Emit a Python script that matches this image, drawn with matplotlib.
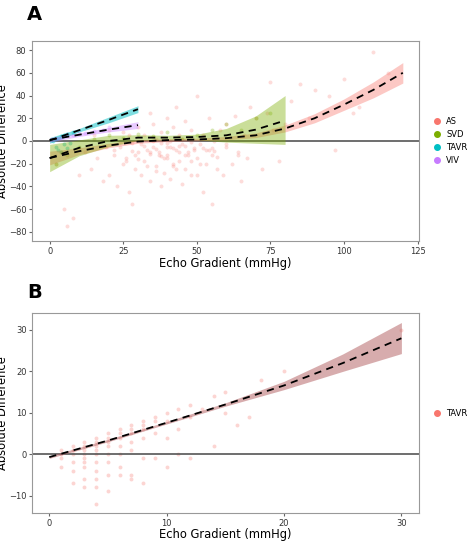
import matplotlib
matplotlib.use("Agg")
import matplotlib.pyplot as plt
import numpy as np

# ---------- Panel A data ----------
as_x = [2,5,6,8,10,12,14,15,16,18,19,20,20,22,23,24,25,25,26,27,28,28,29,30,30,31,32,32,33,34,34,35,35,36,36,37,38,38,39,40,40,40,41,41,42,42,43,43,44,44,45,45,46,46,47,48,48,49,50,50,51,52,52,53,54,55,55,56,57,58,59,60,60,62,63,64,65,66,67,68,70,72,74,75,76,78,80,82,85,88,90,95,97,100,103,105,110,115,
        22,24,26,27,29,31,33,35,37,39,41,43,45,47,49,51,53,55,57,30,34,38,42,46,50,54,36,40,44,48,
        32,36,40,44,48,52,56,38,42,46,28,34,60,64]
as_y = [-20,-60,-75,-68,-30,-10,-25,5,-15,-35,-5,-30,10,-12,-40,-5,-20,8,-15,-45,-55,-2,-25,12,-10,-30,5,-18,-8,25,-35,-5,15,-22,2,-12,-40,8,-28,-5,20,-15,-33,0,12,-22,-8,30,-18,5,-38,-3,18,-25,-10,10,-30,-6,40,-15,-20,5,-45,-8,20,-55,-12,0,-25,10,-30,-5,15,-20,22,-10,-35,5,-15,30,20,-25,25,52,10,-18,15,35,50,20,45,40,-8,55,25,30,78,60,
        -8,0,-18,5,-12,-3,-22,0,-10,-15,-5,-25,2,-12,-8,-3,-20,-6,-14,-16,-10,-2,-20,-12,-30,-8,-26,-12,-4,-18,
        -4,-7,-2,-10,-1,-6,-9,-13,-6,-4,-9,-11,-3,-12]
svd_x = [2,4,6,10,15,20,25,30,35,40,45,50,55,60,65,70,75]
svd_y = [-20,-10,-12,-5,2,5,3,6,4,8,2,5,10,15,10,20,25]
tavr_x = [1,2,2,3,3,4,4,5,5,6,6,7,8]
tavr_y = [0,-5,2,-8,3,-10,4,-3,5,-6,6,-2,8]
viv_x = [2,4,6,8,10,12,15,18,20]
viv_y = [2,3,6,5,8,7,9,10,12]

fit_x_as = [0,10,20,30,40,50,60,70,80,90,100,110,120]
fit_as = [-15,-9,-4,-0.5,0.8,1.3,2.5,5,11,20,32,45,60]
fit_as_lo = [-21,-12,-6,-2,-0.5,0.2,1,3,8,16,27,38,51]
fit_as_hi = [-9,-6,-2,1,2,2.5,4,7,14,24,37,52,69]
fit_x_svd = [0,10,20,30,40,50,60,70,80]
fit_svd = [-15,-6,0,3,3,3.5,5,10,18]
fit_svd_lo = [-27,-13,-5,0.5,1,1,-1,-2,-3]
fit_svd_hi = [-3,1,5,5.5,5,6,11,22,40]
fit_x_short = [0,10,20,30]
fit_tavr = [0.5,9.5,18.5,28]
fit_tavr_lo = [-2,8,16,25]
fit_tavr_hi = [3,11,21,31]
fit_viv = [1,5.5,10,14]
fit_viv_lo = [-1,4,8,11]
fit_viv_hi = [3,7,12,17]

# ---------- Panel B data ----------
b_x = [1,1,1,1,2,2,2,2,2,2,3,3,3,3,3,3,3,3,3,4,4,4,4,4,4,4,4,4,4,5,5,5,5,5,5,5,5,6,6,6,6,6,6,6,7,7,7,7,7,7,7,8,8,8,8,8,8,9,9,9,9,10,10,10,10,11,11,11,12,12,12,13,14,14,15,15,16,17,18,20,30]
b_y = [1,0,-1,-3,2,1,0,-2,-4,-7,3,2,1,0,-1,-2,-3,-6,-8,4,3,2,1,0,-2,-4,-6,-8,-12,5,4,3,2,0,-2,-5,-9,6,5,4,2,0,-3,-5,7,6,5,3,1,-5,-6,8,7,6,4,-1,-7,9,8,5,-1,10,8,4,-3,11,6,0,12,9,-1,11,2,14,15,10,7,9,18,20,30]
fit_x_b = [0,5,10,15,20,25,30]
fit_b = [-0.7,3.3,7.6,12,16.6,22,28]
fit_b_lo = [-1,3,7.3,11.6,15.6,20,24.3]
fit_b_hi = [-0.4,3.6,7.9,12.4,17.6,24.2,31.8]

C_AS, C_SVD, C_TAVR, C_VIV = "#F8766D", "#7CAE00", "#00BFC4", "#C77CFF"

fig = plt.figure(figsize=(4.74, 5.41), dpi=100)
W, H = 474, 541
axA = fig.add_axes([32/W, 1-241/H, 387/W, 200/H])
axB = fig.add_axes([32/W, 1-513/H, 387/W, 200/H])

for ax in (axA, axB):
    for s in ax.spines.values():
        s.set_color("#999999")
    ax.tick_params(labelsize=6, color="#666666", length=2.5, pad=1.5, labelcolor="#333333")
    ax.axhline(0, color="#555555", lw=1.2, zorder=2)

axA.scatter(as_x, as_y, s=8, color=C_AS, alpha=0.25, lw=0, zorder=1)
axA.scatter(svd_x, svd_y, s=8, color=C_SVD, alpha=0.3, lw=0, zorder=1)
axA.scatter(tavr_x, tavr_y, s=8, color=C_TAVR, alpha=0.4, lw=0, zorder=1)
axA.scatter(viv_x, viv_y, s=8, color=C_VIV, alpha=0.3, lw=0, zorder=1)
axA.fill_between(fit_x_as, fit_as_lo, fit_as_hi, color=C_AS, alpha=0.4, lw=0, zorder=3)
axA.fill_between(fit_x_svd, fit_svd_lo, fit_svd_hi, color=C_SVD, alpha=0.4, lw=0, zorder=3)
axA.fill_between(fit_x_short, fit_tavr_lo, fit_tavr_hi, color=C_TAVR, alpha=0.5, lw=0, zorder=3)
axA.fill_between(fit_x_short, fit_viv_lo, fit_viv_hi, color=C_VIV, alpha=0.4, lw=0, zorder=3)
for fx, fy in [(fit_x_as, fit_as), (fit_x_svd, fit_svd), (fit_x_short, fit_tavr), (fit_x_short, fit_viv)]:
    axA.plot(fx, fy, color="black", ls=(0, (4, 3)), lw=1.3, zorder=4)
axA.set_xlim(-6, 125.5)
axA.set_ylim(-88, 88)
axA.set_xticks([0, 25, 50, 75, 100, 125])
axA.set_yticks(range(-80, 81, 20))
axA.set_xlabel("Echo Gradient (mmHg)", fontsize=8.3, labelpad=1)
axA.set_ylabel("Absolute Difference", fontsize=8.3, labelpad=0)
hs = [plt.Line2D([], [], marker="o", ls="", color=c, ms=4) for c in (C_AS, C_SVD, C_TAVR, C_VIV)]
axA.legend(hs, ["AS", "SVD", "TAVR", "VIV"], loc="center left", bbox_to_anchor=(1.01, 0.5),
           frameon=False, fontsize=6, handletextpad=0.1, labelspacing=0.5, borderaxespad=0.3)

axB.scatter(b_x, b_y, s=8, color=C_AS, alpha=0.3, lw=0, zorder=1)
axB.fill_between(fit_x_b, fit_b_lo, fit_b_hi, color="#b05a5c", alpha=0.5, lw=0, zorder=3)
axB.plot(fit_x_b, fit_b, color="black", ls=(0, (4, 3)), lw=1.3, zorder=4)
axB.set_xlim(-1.47, 31.5)
axB.set_ylim(-14.2, 34.1)
axB.set_xticks([0, 10, 20, 30])
axB.set_yticks([-10, 0, 10, 20, 30])
axB.set_xlabel("Echo Gradient (mmHg)", fontsize=8.3, labelpad=0.5)
axB.set_ylabel("Absolute Difference", fontsize=8.3, labelpad=0)
axB.legend([plt.Line2D([], [], marker="o", ls="", color=C_AS, ms=4)], ["TAVR"], loc="center left",
           bbox_to_anchor=(1.01, 0.5), frameon=False, fontsize=6, handletextpad=0.1, borderaxespad=0.3)

fig.text(27/W, 1-14/H, "A", fontsize=14, fontweight="bold", va="center")
fig.text(27/W, 1-293/H, "B", fontsize=14, fontweight="bold", va="center")
fig.savefig("out.png", dpi=100)
